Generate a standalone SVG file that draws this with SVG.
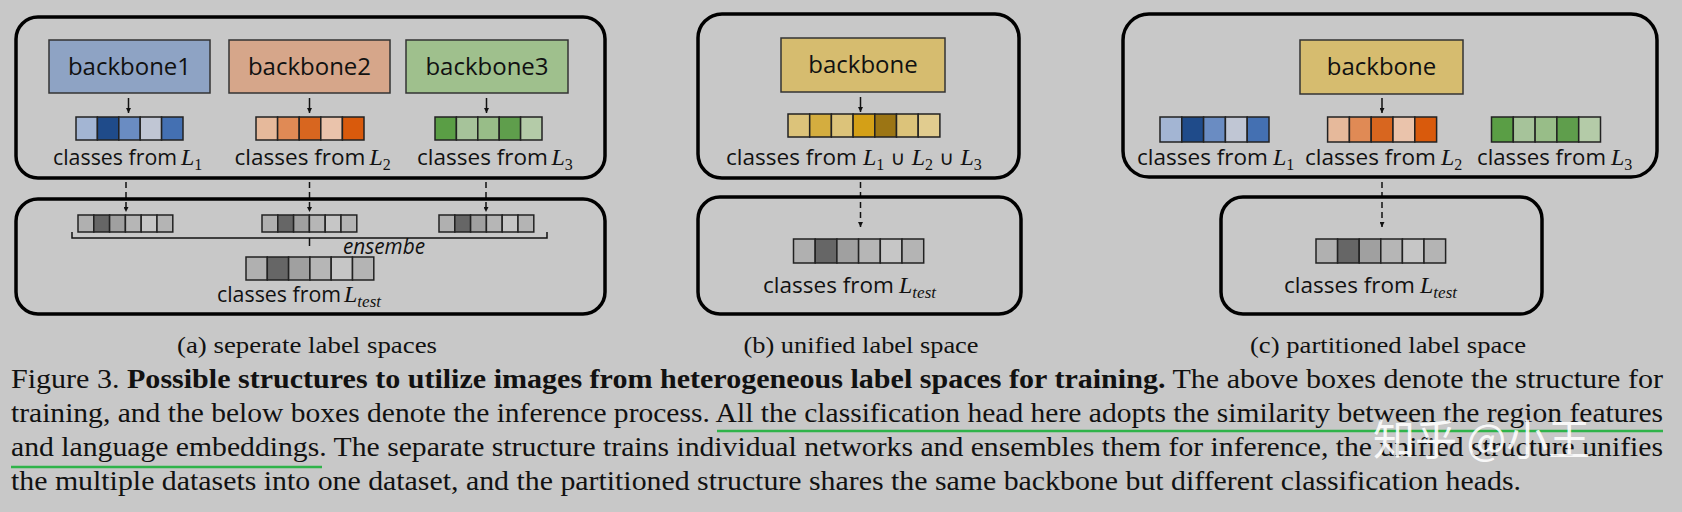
<svg xmlns="http://www.w3.org/2000/svg" width="1682" height="512" viewBox="0 0 1682 512">
<defs>
<marker id="ah" viewBox="0 0 10 10" refX="10" refY="5" markerWidth="5" markerHeight="5" orient="auto" markerUnits="userSpaceOnUse"><path d="M0,0 L10,5 L0,10 z" fill="#111"/></marker>
</defs>
<style>
.panel{fill:none;stroke:#000;stroke-width:3.5}
.bb{stroke:#333;stroke-width:1.5}
.bbt{font-family:"Open Sans","Noto Sans",sans-serif;font-size:24px;fill:#111;text-anchor:middle}
.c{stroke:#222;stroke-width:1.5}
.lab{font-family:"Open Sans","Noto Sans",sans-serif;font-size:21px;fill:#111}
.m{font-family:"Liberation Serif",serif;font-style:italic;font-size:24px}
.s{font-family:"Liberation Serif",serif;font-size:16px;font-style:normal}
.si{font-family:"Liberation Serif",serif;font-size:17px;font-style:italic}
.sol{stroke:#111;stroke-width:1.5;fill:none}
.dash{stroke:#111;stroke-width:1.5;stroke-dasharray:6,4;fill:none}
.cap{font-family:"Liberation Serif",serif;font-size:27px;fill:#111}
.sub{font-family:"Liberation Serif",serif;font-size:24px;fill:#111;text-anchor:middle}
.ul{stroke:#2fb34a;stroke-width:2.5}
</style>
<rect width="1682" height="512" fill="#c8c8c8"/>

<g id="connectors">
<line class="sol" x1="128.5" y1="98" x2="128.5" y2="113" marker-end="url(#ah)"/>
<line class="sol" x1="309.5" y1="98" x2="309.5" y2="113" marker-end="url(#ah)"/>
<line class="sol" x1="486.5" y1="98" x2="486.5" y2="113" marker-end="url(#ah)"/>
<line class="dash" x1="126" y1="182" x2="126" y2="212" marker-end="url(#ah)"/>
<line class="dash" x1="309.5" y1="182" x2="309.5" y2="212" marker-end="url(#ah)"/>
<line class="dash" x1="486" y1="182" x2="486" y2="212" marker-end="url(#ah)"/>
<line class="sol" x1="860.5" y1="97" x2="860.5" y2="112" marker-end="url(#ah)"/>
<line class="dash" x1="860.5" y1="182" x2="860.5" y2="227" marker-end="url(#ah)"/>
<line class="sol" x1="1382" y1="98" x2="1382" y2="113" marker-end="url(#ah)"/>
<line class="dash" x1="1382" y1="182" x2="1382" y2="227" marker-end="url(#ah)"/>
<path class="sol" d="M72,232 L72,238 L547,238 L547,232 M309.5,238 L309.5,246" stroke-width="1.2"/>
</g>

<g id="panel-a">
<rect class="panel" x="16" y="17" width="589" height="161" rx="22"/>
<rect class="panel" x="16" y="199" width="589" height="115" rx="22"/>
<g id="backbone1"><rect class="bb" x="49" y="40" width="161" height="53" fill="#8ea3c4"/><text class="bbt" x="129.5" y="75">backbone1</text></g>
<g id="backbone2"><rect class="bb" x="229" y="40" width="161" height="53" fill="#d6a68a"/><text class="bbt" x="309.5" y="75">backbone2</text></g>
<g id="backbone3"><rect class="bb" x="406" y="40" width="162" height="53" fill="#9fc08d"/><text class="bbt" x="487" y="75">backbone3</text></g>
<g id="cells-a1" class="c">
<rect x="76" y="117" width="21.4" height="23" fill="#a3b5d3"/><rect x="97.4" y="117" width="21.4" height="23" fill="#1f4b8a"/><rect x="118.8" y="117" width="21.4" height="23" fill="#6a8cc2"/><rect x="140.2" y="117" width="21.4" height="23" fill="#c0c6d4"/><rect x="161.6" y="117" width="21.4" height="23" fill="#4470b2"/>
</g>
<g id="cells-a2" class="c">
<rect x="256" y="117" width="21.6" height="23" fill="#e6b99b"/><rect x="277.6" y="117" width="21.6" height="23" fill="#e08a55"/><rect x="299.2" y="117" width="21.6" height="23" fill="#d8661f"/><rect x="320.8" y="117" width="21.6" height="23" fill="#eac3ab"/><rect x="342.4" y="117" width="21.6" height="23" fill="#d95a0c"/>
</g>
<g id="cells-a3" class="c">
<rect x="435" y="117" width="21.4" height="23" fill="#5a9e45"/><rect x="456.4" y="117" width="21.4" height="23" fill="#a6c39a"/><rect x="477.8" y="117" width="21.4" height="23" fill="#98bd88"/><rect x="499.2" y="117" width="21.4" height="23" fill="#5f9e4c"/><rect x="520.6" y="117" width="21.4" height="23" fill="#b4cba8"/>
</g>
<text class="lab" x="53" y="165"><tspan textLength="124" lengthAdjust="spacingAndGlyphs">classes from</tspan><tspan class="m" x="181">L</tspan><tspan class="s" dy="5">1</tspan></text>
<text class="lab" x="234.5" y="165"><tspan textLength="131" lengthAdjust="spacingAndGlyphs">classes from</tspan><tspan class="m" x="369.5">L</tspan><tspan class="s" dy="5">2</tspan></text>
<text class="lab" x="417" y="165"><tspan textLength="131" lengthAdjust="spacingAndGlyphs">classes from</tspan><tspan class="m" x="551.5">L</tspan><tspan class="s" dy="5">3</tspan></text>
<g id="gray-a1" class="c">
<rect x="78" y="215" width="15.8" height="17" fill="#b0b0b0"/><rect x="93.8" y="215" width="15.8" height="17" fill="#666"/><rect x="109.6" y="215" width="15.8" height="17" fill="#a0a0a0"/><rect x="125.4" y="215" width="15.8" height="17" fill="#b6b6b6"/><rect x="141.2" y="215" width="15.8" height="17" fill="#c6c6c6"/><rect x="157" y="215" width="15.8" height="17" fill="#b4b4b4"/>
</g>
<g id="gray-a2" class="c">
<rect x="262" y="215" width="15.8" height="17" fill="#b0b0b0"/><rect x="277.8" y="215" width="15.8" height="17" fill="#666"/><rect x="293.6" y="215" width="15.8" height="17" fill="#a0a0a0"/><rect x="309.4" y="215" width="15.8" height="17" fill="#b6b6b6"/><rect x="325.2" y="215" width="15.8" height="17" fill="#c6c6c6"/><rect x="341" y="215" width="15.8" height="17" fill="#b4b4b4"/>
</g>
<g id="gray-a3" class="c">
<rect x="439" y="215" width="15.8" height="17" fill="#b0b0b0"/><rect x="454.8" y="215" width="15.8" height="17" fill="#666"/><rect x="470.6" y="215" width="15.8" height="17" fill="#a0a0a0"/><rect x="486.4" y="215" width="15.8" height="17" fill="#b6b6b6"/><rect x="502.2" y="215" width="15.8" height="17" fill="#c6c6c6"/><rect x="518" y="215" width="15.8" height="17" fill="#b4b4b4"/>
</g>
<text class="lab" x="343" y="254" font-style="italic" font-size="19" textLength="82" lengthAdjust="spacingAndGlyphs">ensembe</text>
<g id="gray-a4" class="c">
<rect x="246" y="257" width="21.3" height="23" fill="#b0b0b0"/><rect x="267.3" y="257" width="21.3" height="23" fill="#666"/><rect x="288.6" y="257" width="21.3" height="23" fill="#a0a0a0"/><rect x="309.9" y="257" width="21.3" height="23" fill="#b6b6b6"/><rect x="331.2" y="257" width="21.3" height="23" fill="#c6c6c6"/><rect x="352.5" y="257" width="21.3" height="23" fill="#b4b4b4"/>
</g>
<text class="lab" x="217" y="302"><tspan textLength="124" lengthAdjust="spacingAndGlyphs">classes from</tspan><tspan class="m" x="344">L</tspan><tspan class="si" dy="5">test</tspan></text>
</g>

<g id="panel-b">
<rect class="panel" x="698" y="14" width="321" height="164" rx="24"/>
<rect class="panel" x="698" y="197" width="323" height="117" rx="22"/>
<g id="backbone-b"><rect class="bb" x="781" y="38" width="164" height="54" fill="#d6bc6f"/><text class="bbt" x="863" y="73">backbone</text></g>
<g id="cells-b" class="c">
<rect x="788" y="114" width="21.7" height="23" fill="#dcc37a"/><rect x="809.7" y="114" width="21.7" height="23" fill="#d4ad3f"/><rect x="831.4" y="114" width="21.7" height="23" fill="#dcc37a"/><rect x="853.1" y="114" width="21.7" height="23" fill="#d4a017"/><rect x="874.8" y="114" width="21.7" height="23" fill="#9c7514"/><rect x="896.5" y="114" width="21.7" height="23" fill="#dcc37a"/><rect x="918.2" y="114" width="21.7" height="23" fill="#e1cc8f"/>
</g>
<text class="lab" x="726" y="165"><tspan textLength="131" lengthAdjust="spacingAndGlyphs">classes from</tspan><tspan class="m" x="863">L</tspan><tspan class="s" dy="5">1</tspan><tspan dy="-5" font-family="DejaVu Sans" font-size="20"> ∪ </tspan><tspan class="m">L</tspan><tspan class="s" dy="5">2</tspan><tspan dy="-5" font-family="DejaVu Sans" font-size="20"> ∪ </tspan><tspan class="m">L</tspan><tspan class="s" dy="5">3</tspan></text>
<g id="gray-b" class="c">
<rect x="793.5" y="239" width="21.7" height="24" fill="#b0b0b0"/><rect x="815.2" y="239" width="21.7" height="24" fill="#666"/><rect x="836.9" y="239" width="21.7" height="24" fill="#a0a0a0"/><rect x="858.6" y="239" width="21.7" height="24" fill="#b6b6b6"/><rect x="880.3" y="239" width="21.7" height="24" fill="#c6c6c6"/><rect x="902" y="239" width="21.7" height="24" fill="#b4b4b4"/>
</g>
<text class="lab" x="763" y="293"><tspan textLength="131" lengthAdjust="spacingAndGlyphs">classes from</tspan><tspan class="m" x="899">L</tspan><tspan class="si" dy="5">test</tspan></text>
</g>

<g id="panel-c">
<rect class="panel" x="1123" y="14" width="534" height="163" rx="26"/>
<rect class="panel" x="1221" y="197" width="321" height="117" rx="22"/>
<g id="backbone-c"><rect class="bb" x="1300" y="40" width="163" height="54" fill="#d6bc6f"/><text class="bbt" x="1381.5" y="75">backbone</text></g>
<g id="cells-c1" class="c">
<rect x="1160" y="117" width="21.8" height="25" fill="#a3b5d3"/><rect x="1181.8" y="117" width="21.8" height="25" fill="#1f4b8a"/><rect x="1203.6" y="117" width="21.8" height="25" fill="#6a8cc2"/><rect x="1225.4" y="117" width="21.8" height="25" fill="#c0c6d4"/><rect x="1247.2" y="117" width="21.8" height="25" fill="#4470b2"/>
</g>
<g id="cells-c2" class="c">
<rect x="1327.6" y="117" width="21.8" height="25" fill="#e6b99b"/><rect x="1349.4" y="117" width="21.8" height="25" fill="#e08a55"/><rect x="1371.2" y="117" width="21.8" height="25" fill="#d8661f"/><rect x="1393" y="117" width="21.8" height="25" fill="#eac3ab"/><rect x="1414.8" y="117" width="21.8" height="25" fill="#d95a0c"/>
</g>
<g id="cells-c3" class="c">
<rect x="1491.5" y="117" width="21.8" height="25" fill="#5a9e45"/><rect x="1513.3" y="117" width="21.8" height="25" fill="#a6c39a"/><rect x="1535.1" y="117" width="21.8" height="25" fill="#98bd88"/><rect x="1556.9" y="117" width="21.8" height="25" fill="#5f9e4c"/><rect x="1578.7" y="117" width="21.8" height="25" fill="#b4cba8"/>
</g>
<text class="lab" x="1137" y="165"><tspan textLength="131" lengthAdjust="spacingAndGlyphs">classes from</tspan><tspan class="m" x="1273">L</tspan><tspan class="s" dy="5">1</tspan></text>
<text class="lab" x="1305" y="165"><tspan textLength="131" lengthAdjust="spacingAndGlyphs">classes from</tspan><tspan class="m" x="1441">L</tspan><tspan class="s" dy="5">2</tspan></text>
<text class="lab" x="1477" y="165"><tspan textLength="129" lengthAdjust="spacingAndGlyphs">classes from</tspan><tspan class="m" x="1611">L</tspan><tspan class="s" dy="5">3</tspan></text>
<g id="gray-c" class="c">
<rect x="1316" y="239" width="21.6" height="24" fill="#b0b0b0"/><rect x="1337.6" y="239" width="21.6" height="24" fill="#666"/><rect x="1359.2" y="239" width="21.6" height="24" fill="#a0a0a0"/><rect x="1380.8" y="239" width="21.6" height="24" fill="#b6b6b6"/><rect x="1402.4" y="239" width="21.6" height="24" fill="#c6c6c6"/><rect x="1424" y="239" width="21.6" height="24" fill="#b4b4b4"/>
</g>
<text class="lab" x="1284" y="293"><tspan textLength="131" lengthAdjust="spacingAndGlyphs">classes from</tspan><tspan class="m" x="1420">L</tspan><tspan class="si" dy="5">test</tspan></text>
</g>

<g id="caption">
<text class="sub" x="307" y="353" textLength="260" lengthAdjust="spacingAndGlyphs">(a) seperate label spaces</text>
<text class="sub" x="861" y="353" textLength="235" lengthAdjust="spacingAndGlyphs">(b) unified label space</text>
<text class="sub" x="1388" y="353" textLength="276" lengthAdjust="spacingAndGlyphs">(c) partitioned label space</text>
<text class="cap" x="11" y="388" textLength="1652" lengthAdjust="spacingAndGlyphs">Figure 3. <tspan font-weight="bold">Possible structures to utilize images from heterogeneous label spaces for training.</tspan> The above boxes denote the structure for</text>
<text class="cap" x="11" y="422" textLength="1652" lengthAdjust="spacingAndGlyphs">training, and the below boxes denote the inference process. All the classification head here adopts the similarity between the region features</text>
<text class="cap" x="11" y="456" textLength="1652" lengthAdjust="spacingAndGlyphs">and language embeddings. The separate structure trains individual networks and ensembles them for inference, the unified structure unifies</text>
<text class="cap" x="11" y="490" textLength="1510" lengthAdjust="spacingAndGlyphs">the multiple datasets into one dataset, and the partitioned structure shares the same backbone but different classification heads.</text>
<line class="ul" x1="717" y1="431" x2="1663" y2="431"/>
<line class="ul" x1="11" y1="467" x2="322" y2="467"/>
<text x="1373" y="455" font-family="Noto Sans CJK SC, sans-serif" font-size="42" fill="#fff" fill-opacity="0.9">知乎 @小王</text>
</g>
</svg>
